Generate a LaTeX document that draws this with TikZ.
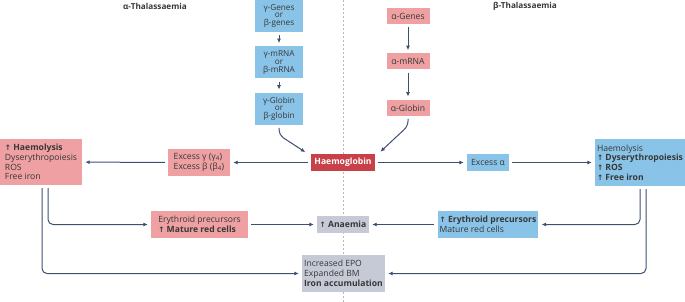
\documentclass[tikz,border=0pt]{standalone}
\usepackage{fontspec}
\setmainfont{Open Sans}
\newfontfamily\arrowfont{DejaVu Sans}
\newcommand{\uparr}{{\arrowfont\fontsize{7.4}{7.4}\selectfont ↑}}
\usetikzlibrary{arrows.meta,positioning}
\definecolor{thalblue}{RGB}{137,196,232}
\definecolor{thalpink}{RGB}{238,160,162}
\definecolor{thalred}{RGB}{200,64,72}
\definecolor{thalgrey}{RGB}{197,202,214}
\definecolor{arrowink}{RGB}{62,80,112}
\definecolor{textink}{RGB}{55,55,55}
\definecolor{divider}{RGB}{185,185,185}

\begin{document}
\begin{tikzpicture}[
  x=1pt, y=-1pt,
  box/.style={inner sep=2pt, text=textink, font=\fontsize{8.6}{9.8}\selectfont},
  bluebox/.style={box, fill=thalblue},
  pinkbox/.style={box, fill=thalpink},
  greybox/.style={box, fill=thalgrey},
  gene/.style={align=center, minimum width=48pt, minimum height=32pt, font=\fontsize{8.2}{7.9}\selectfont},
  single/.style={align=center, minimum height=17pt},
  effect/.style={align=left, minimum height=#1},
  title/.style={font=\fontsize{8.2}{10}\selectfont\bfseries, text=textink},
  arrow/.style={-{Latex[length=4.5pt,width=4pt]}, line width=1pt, draw=arrowink, rounded corners=5pt, shorten <=3pt, shorten >=3pt}
]
\useasboundingbox (0,0) rectangle (685,302);
\draw[divider, line width=0.6pt, dash pattern=on 2pt off 2pt] (343,0) -- (343,302);

% titles
\node[title] (atitle) at (155,6) {α-Thalassaemia};
\node[title] (btitle) at (525,6) {β-Thalassaemia};

% gamma / beta chain column
\node[bluebox, gene] (ggenes) at (279,16) {γ-Genes\\or\\β-genes};
\node[bluebox, gene, below=14pt of ggenes] (gmrna) {γ-mRNA\\or\\β-mRNA};
\node[bluebox, gene, below=14pt of gmrna] (gglobin) {γ-Globin\\or\\β-globin};

% alpha chain column
\node[pinkbox, single, minimum width=43pt, minimum height=16pt] (agenes) at (408,16) {α-Genes};
\node[pinkbox, single, minimum width=43pt, minimum height=16pt, below=29pt of agenes] (amrna) {α-mRNA};
\node[pinkbox, single, minimum width=43pt, minimum height=16pt, below=30pt of amrna] (aglobin) {α-Globin};

\node[box, single, fill=thalred, text=white, font=\fontsize{8.6}{9.8}\selectfont\bfseries, minimum width=64pt] (haem) at (343,162.5) {Haemoglobin};

% alpha-thalassaemia side
\node[pinkbox, effect=27pt, minimum width=62pt] (exg) at (199,162.5) {Excess γ (γ\textsubscript{4})\\Excess β (β\textsubscript{4})};
\node[pinkbox, effect=46pt, minimum width=82pt] (aeff) at (41,162) {\textbf{\uparr\ Haemolysis}\\Dyserythropoiesis\\ROS\\Free iron};
\node[pinkbox, effect=27pt, minimum width=97pt] (aery) at (199.5,224.5) {Erythroid precursors\\\textbf{\uparr\ Mature red cells}};

% beta-thalassaemia side
\node[bluebox, single, minimum width=42pt] (exa) at (488,162.5) {Excess α};
\node[bluebox, effect=47pt, minimum width=90pt] (beff) at (640,162.5) {Haemolysis\\\textbf{\uparr\ Dyserythropoiesis}\\\textbf{\uparr\ ROS}\\\textbf{\uparr\ Free iron}};
\node[bluebox, effect=27pt, minimum width=100pt] (bery) at (488,224.5) {\textbf{\uparr\ Erythroid precursors}\\Mature red cells};

% shared outcomes
\node[greybox, single, font=\fontsize{8.6}{9.8}\selectfont\bfseries, minimum width=52pt] (anaem) at (343,224.5) {\uparr\ Anaemia};
\node[greybox, effect=37pt, minimum width=83pt] (marrow) at (343.5,273.5) {Increased EPO\\Expanded BM\\\textbf{Iron accumulation}};

\draw[arrow] (ggenes) -- (gmrna);
\draw[arrow] (gmrna) -- (gglobin);
\draw[arrow] (agenes) -- (amrna);
\draw[arrow] (amrna) -- (aglobin);
\draw[arrow] (gglobin.south) -- ++(0,10) -- ([xshift=-3pt]haem.north west);
\draw[arrow] (aglobin.south) -- ++(0,10) -- ([xshift=3pt]haem.north east);

\draw[arrow] (haem) -- (exg);
\draw[arrow] (exg) -- (aeff);
\draw[arrow] (haem) -- (exa);
\draw[arrow] (exa) -- (beff);

\draw[arrow] ([xshift=7pt]aeff.south) |- (aery.west);
\draw[arrow] ([xshift=1pt]aeff.south) |- (marrow.west);
\draw[arrow] (beff.south) |- (bery.east);
\draw[arrow] ([xshift=6pt]beff.south) |- (marrow.east);

\draw[arrow] (aery) -- (anaem);
\draw[arrow] (bery) -- (anaem);
\end{tikzpicture}
\end{document}
